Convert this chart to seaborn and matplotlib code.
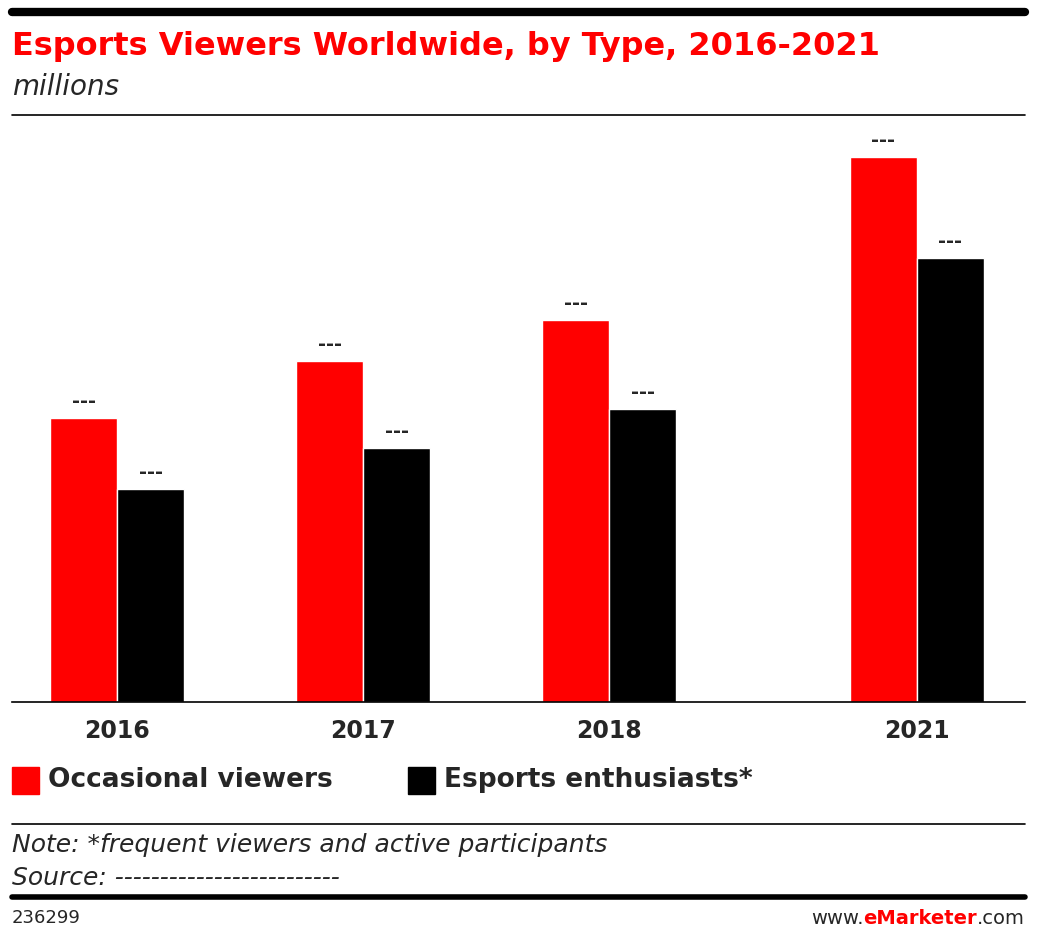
import matplotlib
matplotlib.use("Agg")
import matplotlib.pyplot as plt
import seaborn as sns
import pandas as pd
from matplotlib.patches import Rectangle
from matplotlib.lines import Line2D

years = ["2016", "2017", "2018", "2021"]
occasional = [160, 192, 215, 307]
enthusiasts = [120, 143, 165, 250]
series = ["Occasional viewers", "Esports enthusiasts*"]
colors = ["#ff0000", "#000000"]
gap_positions = [0, 1, 2, 3.25]

df = pd.DataFrame({
    "pos": gap_positions * 2,
    "value": occasional + enthusiasts,
    "type": [series[0]] * 4 + [series[1]] * 4,
})

sns.set_style("white")
plt.rcParams["font.family"] = ["DejaVu Sans"]
W, H = 1038, 947
fig = plt.figure(figsize=(W / 100, H / 100), dpi=100)
ax = fig.add_axes([12 / W, 1 - 702 / H, (1025 - 12) / W, (702 - 130) / H])
sns.barplot(data=df, x="pos", y="value", hue="type", palette=colors,
            native_scale=True, width=0.545, ax=ax, legend=False, saturation=1)
ax.set_xlim(-0.427, 3.69)
ax.set_ylim(0, 322)
ax.set_yticks([])
ax.set_xticks(gap_positions)
ax.set_xticklabels(years, fontsize=17, fontweight="bold")
ax.tick_params(axis="x", length=0, pad=12)
ax.set_xlabel(""); ax.set_ylabel("")
for s in ["top", "left", "right"]:
    ax.spines[s].set_visible(False)
ax.spines["bottom"].set_color("black")
ax.spines["bottom"].set_linewidth(1.2)
for p in ax.patches:
    ax.text(p.get_x() + p.get_width() / 2, p.get_height() + 4, "---",
            ha="center", va="bottom", fontsize=14, fontweight="bold")

fig.add_artist(Line2D([12 / W, 1025 / W], [1 - 12 / H] * 2, color="black", lw=6))
fig.text(12 / W, 1 - 46 / H, "Esports Viewers Worldwide, by Type, 2016-2021",
         color="#ff0000", fontsize=23, fontweight="bold", va="center")
fig.text(12 / W, 1 - 87 / H, "millions", fontsize=20, style="italic", va="center")
fig.add_artist(Line2D([12 / W, 1025 / W], [1 - 115 / H] * 2, color="black", lw=1.2))

# legend
for x0, lab, c in [(12, series[0], colors[0]), (408, series[1], colors[1])]:
    fig.add_artist(Rectangle((x0 / W, 1 - 794 / H), 27 / W, 27 / H, color=c))
    fig.text((x0 + 36) / W, 1 - 780 / H, lab, fontsize=19, fontweight="bold", va="center")

fig.add_artist(Line2D([12 / W, 1025 / W], [1 - 824 / H] * 2, color="black", lw=1.2))
fig.text(12 / W, 1 - 845 / H, "Note: *frequent viewers and active participants",
         fontsize=18, style="italic", va="center")
fig.text(12 / W, 1 - 878 / H, "Source: -------------------------",
         fontsize=18, style="italic", va="center")
fig.add_artist(Line2D([12 / W, 1025 / W], [1 - 897 / H] * 2, color="black", lw=4))
fig.text(12 / W, 1 - 918 / H, "236299", fontsize=13, va="center")
fig.text(1025 / W, 1 - 918 / H, "www.", fontsize=14, va="center", ha="right", alpha=0)
t1 = fig.text(1025 / W, 1 - 918 / H, ".com", fontsize=14, va="center", ha="right")
fig.canvas.draw()
bb = t1.get_window_extent()
t2 = fig.text(bb.x0 / W, 1 - 918 / H, "eMarketer", fontsize=14, fontweight="bold",
              color="#ff0000", va="center", ha="right")
fig.canvas.draw()
bb2 = t2.get_window_extent()
t3 = fig.text(bb2.x0 / W, 1 - 918 / H, "www.", fontsize=14, va="center", ha="right")
fig.savefig("out.png", dpi=100)
